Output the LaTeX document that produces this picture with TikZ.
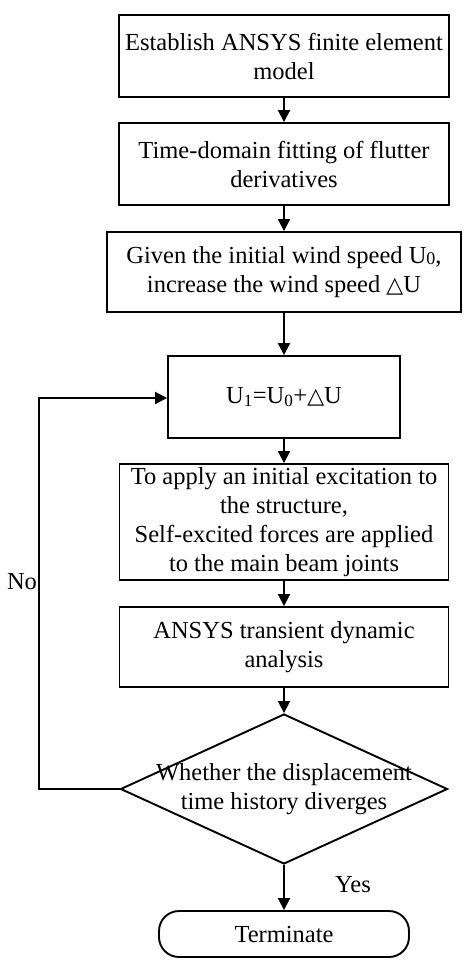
\documentclass[tikz,border=0pt]{standalone}
\usepackage{fontspec}
\setmainfont{Liberation Serif}
\newfontfamily\symfnt{DejaVu Sans}
\usetikzlibrary{shapes.geometric,arrows.meta}
\newcommand{\tri}{{\symfnt\fontsize{22}{22}\selectfont △}}
\begin{document}
\begin{tikzpicture}[x=1pt,y=-1pt,
  every node/.style={font=\fontsize{24.5}{29}\selectfont},
  box/.style={draw,line width=1.9pt,rectangle,align=center,inner sep=0pt},
  term/.style={draw,line width=1.9pt,rectangle,rounded corners=20pt,align=center,inner sep=0pt},
  dia/.style={draw,line width=1.9pt,diamond,inner sep=0pt},
  conn/.style={line width=1.9pt,-{Triangle[width=12pt,length=12pt]}}]
\useasboundingbox (0,0) rectangle (474,974);
\node[box,minimum width=330pt,minimum height=82pt] (b1) at (284,56) {Establish ANSYS finite element\\model};
\node[box,minimum width=330pt,minimum height=82pt] (b2) at (284,164) {Time-domain fitting of flutter\\derivatives};
\node[box,minimum width=354pt,minimum height=80pt] (b3) at (284,272) {Given the initial wind speed U\raisebox{-1pt}{\fontsize{18}{18}\selectfont 0},\\increase the wind speed \tri U};
\node[box,minimum width=232pt,minimum height=82pt] (b4) at (284,397) {U\textsubscript{1}=U\textsubscript{0}+\tri U};
\node[box,minimum width=329pt,minimum height=116pt] (b5) at (284,522) {To apply an initial excitation to\\the structure,\\Self-excited forces are applied\\to the main beam joints};
\node[box,minimum width=329pt,minimum height=80pt] (b6) at (284,647) {ANSYS transient dynamic\\analysis};
\node[dia,minimum width=327pt,minimum height=150pt] (d) at (284,789) {};
\node[align=center,inner sep=0pt] (dt) at (284,789) {Whether the displacement\\time history diverges};
\node[term,minimum width=250pt,minimum height=46pt] (t) at (284,934) {Terminate};
\coordinate (c1) at (39,789);
\coordinate (c2) at (39,398);
\node[inner sep=0pt] (no) at (22,582) {No};
\node[inner sep=0pt] (yes) at (353,885) {Yes};
\draw[conn] (b1) -- (b2);
\draw[conn] (b2) -- (b3);
\draw[conn] (b3) -- (b4);
\draw[conn] (b4) -- (b5);
\draw[conn] (b5) -- (b6);
\draw[conn] (b6.south) -- (d.north);
\draw[conn] (d.south) -- (t.north);
\draw[conn] (d.west) -- (c1) -- (c2) -- (b4.west |- c2);
\end{tikzpicture}
\end{document}
